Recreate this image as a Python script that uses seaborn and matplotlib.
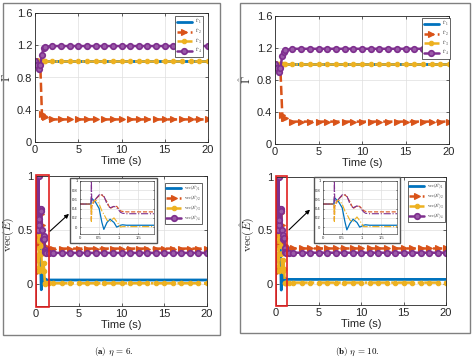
import matplotlib
matplotlib.use('Agg')
import matplotlib.pyplot as plt
import seaborn as sns
from matplotlib.patches import Rectangle, FancyArrowPatch

# ---------------- data ----------------
# Top panels: Gamma-hat estimates
t_gam_a = [0, 0.25, 0.42, 0.6, 0.8, 1.0, 1.1, 2, 3, 4, 5, 6, 7, 8, 9, 10, 11, 12, 13, 14, 15, 16, 17, 18, 19, 20]
gam1_a = [1.0, 1.0, 1.0, 1.0, 1.0, 1.0, 1.0, 1.0, 1.0, 1.0, 1.0, 1.0, 1.0, 1.0, 1.0, 1.0, 1.0, 1.0, 1.0, 1.0, 1.0, 1.0, 1.0, 1.0, 1.0, 1.0]
gam2_a = [1.0, 1.0, 1.0, 1.0, 0.35, 0.32, 0.31, 0.28, 0.28, 0.28, 0.28, 0.28, 0.28, 0.28, 0.28, 0.28, 0.28, 0.28, 0.28, 0.28, 0.28, 0.28, 0.28, 0.28, 0.28, 0.28]
gam3_a = [1.0, 1.0, 1.0, 1.0, 1.0, 1.0, 1.0, 1.0, 1.0, 1.0, 1.0, 1.0, 1.0, 1.0, 1.0, 1.0, 1.0, 1.0, 1.0, 1.0, 1.0, 1.0, 1.0, 1.0, 1.0, 1.0]
gam4_a = [1.0, 0.95, 0.91, 0.96, 1.08, 1.17, 1.18, 1.19, 1.19, 1.19, 1.19, 1.19, 1.19, 1.19, 1.19, 1.19, 1.19, 1.19, 1.19, 1.19, 1.19, 1.19, 1.19, 1.19, 1.19, 1.19]

t_gam_b = [0, 0.25, 0.46, 0.6, 0.84, 1.03, 1.15, 2, 3, 4, 5, 6, 7, 8, 9, 10, 11, 12, 13, 14, 15, 16, 17, 18, 19, 20]
gam1_b = [1.0, 1.0, 1.0, 1.0, 1.0, 1.0, 1.0, 1.0, 1.0, 1.0, 1.0, 1.0, 1.0, 1.0, 1.0, 1.0, 1.0, 1.0, 1.0, 1.0, 1.0, 1.0, 1.0, 1.0, 1.0, 1.0]
gam2_b = [1.0, 1.0, 1.0, 0.99, 0.36, 0.33, 0.32, 0.28, 0.28, 0.28, 0.28, 0.28, 0.28, 0.28, 0.28, 0.28, 0.28, 0.28, 0.28, 0.28, 0.28, 0.28, 0.28, 0.28, 0.28, 0.28]
gam3_b = [1.0, 1.0, 1.0, 1.0, 1.0, 1.0, 1.0, 1.0, 1.0, 1.0, 1.0, 1.0, 1.0, 1.0, 1.0, 1.0, 1.0, 1.0, 1.0, 1.0, 1.0, 1.0, 1.0, 1.0, 1.0, 1.0]
gam4_b = [1.0, 0.95, 0.90, 0.95, 1.10, 1.15, 1.17, 1.19, 1.19, 1.19, 1.19, 1.19, 1.19, 1.19, 1.19, 1.19, 1.19, 1.19, 1.19, 1.19, 1.19, 1.19, 1.19, 1.19, 1.19, 1.19]

# Bottom panels: vec(E-hat) estimates
t_e = [0, 0.1, 0.2, 0.29, 0.3, 0.31, 0.4, 0.5, 0.57, 0.62, 0.7, 0.78, 0.88, 0.95, 1.05, 1.1, 1.2, 1.5,
       2, 3, 4, 5, 6, 7, 8, 9, 10, 11, 12, 13, 14, 15, 16, 17, 18, 19, 20]
e1_a = [0.5, 0.5, 0.5, 0.5, 0.62, 0.62, 0.55, 0.40, 0.10, -0.05, 0.10, 0.17, 0.10, 0.0, 0.04, 0.05, 0.04, 0.04,
        0.04, 0.04, 0.04, 0.04, 0.04, 0.04, 0.04, 0.04, 0.04, 0.04, 0.04, 0.04, 0.04, 0.04, 0.04, 0.04, 0.04, 0.04, 0.04]
e2_a = [0.5, 0.5, 0.5, 0.5, 0.12, 0.45, 0.60, 0.68, 0.70, 0.65, 0.55, 0.40, 0.45, 0.45, 0.35, 0.34, 0.33, 0.33,
        0.33, 0.33, 0.33, 0.33, 0.33, 0.33, 0.33, 0.33, 0.33, 0.33, 0.33, 0.33, 0.33, 0.33, 0.33, 0.33, 0.33, 0.33, 0.33]
e3_a = [0.5, 0.5, 0.5, 0.5, 0.12, 0.50, 0.60, 0.50, 0.35, 0.28, 0.15, 0.12, 0.20, 0.12, 0.0, 0.01, 0.01, 0.01,
        0.01, 0.01, 0.01, 0.01, 0.01, 0.01, 0.01, 0.01, 0.01, 0.01, 0.01, 0.01, 0.01, 0.01, 0.01, 0.01, 0.01, 0.01, 0.01]
e4_a = [0.5, 0.5, 0.5, 0.5, 1.0, 0.55, 0.60, 0.70, 0.70, 0.68, 0.50, 0.42, 0.45, 0.42, 0.32, 0.30, 0.29, 0.29,
        0.29, 0.29, 0.29, 0.29, 0.29, 0.29, 0.29, 0.29, 0.29, 0.29, 0.29, 0.29, 0.29, 0.29, 0.29, 0.29, 0.29, 0.29, 0.29]

e1_b = [0.5, 0.5, 0.5, 0.5, 0.62, 0.63, 0.56, 0.42, 0.12, -0.06, 0.08, 0.17, 0.10, 0.0, 0.04, 0.05, 0.04, 0.04,
        0.04, 0.04, 0.04, 0.04, 0.04, 0.04, 0.04, 0.04, 0.04, 0.04, 0.04, 0.04, 0.04, 0.04, 0.04, 0.04, 0.04, 0.04, 0.04]
e2_b = [0.5, 0.5, 0.5, 0.5, 0.12, 0.45, 0.60, 0.68, 0.70, 0.66, 0.55, 0.40, 0.46, 0.45, 0.36, 0.34, 0.33, 0.33,
        0.33, 0.33, 0.33, 0.33, 0.33, 0.33, 0.33, 0.33, 0.33, 0.33, 0.33, 0.33, 0.33, 0.33, 0.33, 0.33, 0.33, 0.33, 0.33]
e3_b = [0.5, 0.5, 0.5, 0.5, 0.12, 0.50, 0.60, 0.50, 0.35, 0.28, 0.15, 0.12, 0.22, 0.14, 0.01, 0.01, 0.01, 0.01,
        0.01, 0.01, 0.01, 0.01, 0.01, 0.01, 0.01, 0.01, 0.01, 0.01, 0.01, 0.01, 0.01, 0.01, 0.01, 0.01, 0.01, 0.01, 0.01]
e4_b = [0.5, 0.5, 0.5, 0.5, 1.0, 0.55, 0.60, 0.70, 0.70, 0.68, 0.50, 0.42, 0.46, 0.43, 0.33, 0.30, 0.29, 0.29,
        0.29, 0.29, 0.29, 0.29, 0.29, 0.29, 0.29, 0.29, 0.29, 0.29, 0.29, 0.29, 0.29, 0.29, 0.29, 0.29, 0.29, 0.29, 0.29]

gam_labels = [r'$\hat{\Gamma}_1$', r'$\hat{\Gamma}_2$', r'$\hat{\Gamma}_3$', r'$\hat{\Gamma}_4$']
e_labels = [r'$\mathrm{vec}(\hat{E})_1$', r'$\mathrm{vec}(\hat{E})_2$',
            r'$\mathrm{vec}(\hat{E})_3$', r'$\mathrm{vec}(\hat{E})_4$']
x_ticks = [0, 5, 10, 15, 20]
x_ticklabels = ['0', '5', '10', '15', '20']
gam_yticks = [0, 0.4, 0.8, 1.2, 1.6]
gam_yticklabels = ['0', '0.4', '0.8', '1.2', '1.6']
e_yticks = [0, 0.5, 1]
e_yticklabels = ['0', '0.5', '1']
ins_xticks = [0, 0.5, 1, 1.5]
ins_xticklabels = ['0', '0.5', '1', '1.5']
ins_yticks = [0, 0.2, 0.4, 0.6, 0.8, 1.0]
ins_yticklabels = ['0', '0.2', '0.4', '0.6', '0.8', '1']
captions = [r'$\mathbf{(a)}\ \eta\,=\,6.$', r'$\mathbf{(b)}\ \eta\,=\,10.$']

# ---------------- style ----------------
sns.set_theme(style='whitegrid')
plt.rcParams['font.family'] = ['Liberation Sans', 'DejaVu Sans']
plt.rcParams['mathtext.fontset'] = 'cm'

BLUE, ORANGE, YELLOW, PURPLE = '#0072BD', '#D95319', '#EDB120', '#7E2F8E'
DARK = '#262626'
styles = [
    dict(color=BLUE, linestyle='-', linewidth=2.0, marker=None),
    dict(color=ORANGE, linestyle='--', linewidth=1.8, marker='>', markersize=3.8,
         markeredgecolor=ORANGE, markerfacecolor=ORANGE, markeredgewidth=0.8),
    dict(color=YELLOW, linestyle='-.', linewidth=1.8, marker='o', markersize=3.2,
         markeredgecolor=YELLOW, markerfacecolor=YELLOW, markeredgewidth=0.8),
    dict(color=PURPLE, linestyle='-', linewidth=1.8, marker='o', markersize=4.0,
         markeredgecolor=PURPLE, markerfacecolor='#9a5aa8', markeredgewidth=1.2),
]
ins_styles = [
    dict(color=BLUE, linestyle='-', linewidth=0.9),
    dict(color=ORANGE, linestyle='--', linewidth=0.8),
    dict(color=YELLOW, linestyle='-.', linewidth=0.8),
    dict(color=PURPLE, linestyle='-.', linewidth=0.8),
]

W, H = 474, 363
fig = plt.figure(figsize=(W / 100, H / 100), dpi=100)
fig.patch.set_facecolor('white')


def fx(px):
    return px / W


def fy(py):
    return 1 - py / H


def style_axes(ax, fs=8, tick_len=2.0):
    ax.set_facecolor('white')
    for s in ax.spines.values():
        s.set_visible(True)
        s.set_color(DARK)
        s.set_linewidth(0.6)
    ax.grid(True, color='#dedede', linewidth=0.5)
    ax.tick_params(direction='in', length=tick_len, width=0.5, colors=DARK,
                   labelsize=fs, pad=2, top=True, right=True, bottom=True, left=True)


def draw_series(ax, t, series, labels, stys):
    for v, st, lab in zip(series, stys, labels):
        sns.lineplot(x=t, y=v, ax=ax, sort=False, estimator=None, errorbar=None,
                     label=lab, **st)


def add_legend(ax, labels_fs, anchor_px, hl=3.0):
    leg = ax.legend(loc='upper right', bbox_to_anchor=(fx(anchor_px[0]), fy(anchor_px[1])),
                    bbox_transform=fig.transFigure, fontsize=labels_fs, frameon=True,
                    fancybox=False, framealpha=1, edgecolor=DARK, handlelength=hl,
                    borderpad=0.3, labelspacing=0.12, handletextpad=0.6, borderaxespad=0)
    leg.get_frame().set_linewidth(0.5)
    leg.set_zorder(8)
    return leg


# subfigure frames
fig.add_artist(Rectangle((fx(3), fy(335)), fx(217), 332 / H, transform=fig.transFigure,
                         fill=False, edgecolor='#808080', linewidth=1.0))
fig.add_artist(Rectangle((fx(240), fy(333)), fx(230), 330 / H, transform=fig.transFigure,
                         fill=False, edgecolor='#808080', linewidth=1.0))

panels = [
    dict(top=[fx(35), fy(142), fx(173), 129 / H], bot=[fx(36), fy(306), fx(171), 130 / H],
         tg=t_gam_a, gam=[gam1_a, gam2_a, gam3_a, gam4_a], e=[e1_a, e2_a, e3_a, e4_a],
         leg_top=(203, 16), leg_bot=(202, 183), rect_w=1.5,
         ins=[fx(79.7), fy(234), fx(74), 53 / H], box=(70, 178, 157, 243),
         arrow=((48, 233), (71, 212)), cap=(114, 352)),
    dict(top=[fx(275), fy(144), fx(174), 128 / H], bot=[fx(276), fy(305), fx(170), 128 / H],
         tg=t_gam_b, gam=[gam1_b, gam2_b, gam3_b, gam4_b], e=[e1_b, e2_b, e3_b, e4_b],
         leg_top=(450, 18), leg_bot=(445, 181), rect_w=1.3,
         ins=[fx(322.7), fy(234), fx(74), 53 / H], box=(313.7, 177.3, 400.3, 242.7),
         arrow=((287, 231.7), (312, 207.7)), cap=(357, 352)),
]

for i, p in enumerate(panels):
    # ---- top: Gamma-hat ----
    ax = fig.add_axes(p['top'])
    style_axes(ax)
    draw_series(ax, p['tg'], p['gam'], gam_labels, styles)
    ax.set_xlim(0, 20)
    ax.set_ylim(0, 1.6)
    ax.set_xticks(x_ticks)
    ax.set_xticklabels(x_ticklabels)
    ax.set_yticks(gam_yticks)
    ax.set_yticklabels(gam_yticklabels)
    ax.set_xlabel('Time (s)', fontsize=8, color=DARK, labelpad=1)
    ax.set_ylabel(r'$\hat{\Gamma}$', fontsize=8.5, color=DARK)
    ax.yaxis.set_label_coords(-0.12, 0.5)
    add_legend(ax, 3.4, p['leg_top'], hl=3.2)

    # ---- bottom: vec(E-hat) ----
    axb = fig.add_axes(p['bot'])
    style_axes(axb)
    draw_series(axb, t_e, p['e'], e_labels, styles)
    axb.set_xlim(0, 20)
    axb.set_ylim(-0.2, 1.0)
    axb.set_xticks(x_ticks)
    axb.set_xticklabels(x_ticklabels)
    axb.set_yticks(e_yticks)
    axb.set_yticklabels(e_yticklabels)
    axb.set_xlabel('Time (s)', fontsize=8, color=DARK, labelpad=1)
    axb.set_ylabel(r'$\mathrm{vec}(\hat{E})$', fontsize=8.5, color=DARK)
    axb.yaxis.set_label_coords(-0.115, 0.55)
    add_legend(axb, 3.2, p['leg_bot'], hl=3.4)
    axb.add_patch(Rectangle((0, -0.21), p['rect_w'], 1.22, fill=False, edgecolor='#e02020',
                            linewidth=1.2, clip_on=False, zorder=4))

    # ---- inset ----
    x0, y0, x1, y1 = p['box']
    fig.add_artist(Rectangle((fx(x0), fy(y1)), fx(x1 - x0), (y1 - y0) / H,
                             transform=fig.transFigure, facecolor='white',
                             edgecolor='#555555', linewidth=1.0, zorder=5))
    axi = fig.add_axes(p['ins'], zorder=6)
    style_axes(axi, fs=3, tick_len=1.0)
    draw_series(axi, t_e, p['e'], [None] * 4, ins_styles)
    if axi.get_legend() is not None:
        axi.get_legend().remove()
    axi.set_xlim(0, 1.9)
    axi.set_ylim(-0.15, 1.0)
    axi.set_xticks(ins_xticks)
    axi.set_xticklabels(ins_xticklabels)
    axi.set_yticks(ins_yticks)
    axi.set_yticklabels(ins_yticklabels)
    axi.tick_params(pad=1.5)
    axi.set_xlabel('')
    axi.set_ylabel('')
    for s in axi.spines.values():
        s.set_linewidth(0.4)

    (ax0, ay0), (ax1, ay1) = p['arrow']
    fig.add_artist(FancyArrowPatch((fx(ax0), fy(ay0)), (fx(ax1), fy(ay1)),
                                   transform=fig.transFigure, arrowstyle='-|>',
                                   mutation_scale=6, color='black', linewidth=0.8, zorder=7))

    cx, cy = p['cap']
    fig.text(fx(cx), fy(cy), captions[i], fontsize=6.5, ha='center', va='center', color='black')

fig.savefig('out.png', dpi=100)
